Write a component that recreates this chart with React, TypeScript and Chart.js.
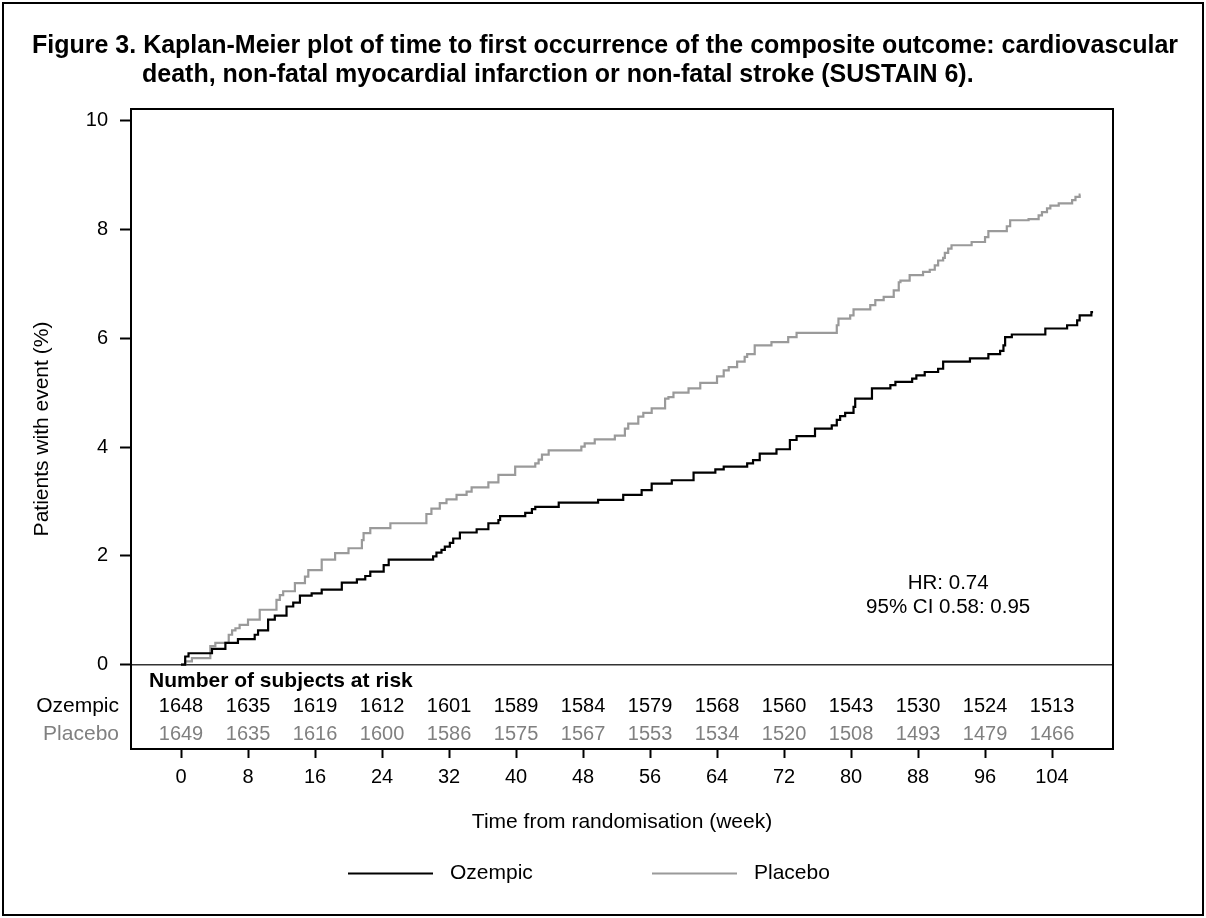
import React, { useEffect, useRef } from "react";
import { Chart, registerables } from "chart.js";

Chart.register(...registerables);

// ---- data ----
const ozWeeks = [0, 0.5, 0.9, 3.7, 5.3, 6.8, 8.8, 9.2, 10.4, 11.2, 12.6, 13.4, 14.2, 15.6, 16.8, 19.2, 21.0, 22.0, 22.6, 24.2, 24.8, 30.1, 30.5, 31.1, 31.5, 32.1, 32.5, 33.3, 35.3, 36.7, 37.9, 38.1, 41.1, 41.9, 42.3, 45.1, 49.8, 52.8, 55.0, 56.2, 58.6, 61.2, 63.8, 64.8, 67.6, 68.3, 69.1, 71.1, 72.7, 73.5, 75.7, 77.7, 78.3, 78.7, 79.3, 80.3, 80.5, 82.5, 84.7, 85.3, 87.3, 87.8, 88.8, 90.4, 91.0, 94.2, 96.4, 97.8, 98.2, 98.4, 99.2, 103.2, 105.8, 107.0, 107.3, 108.7, 108.9];
const ozValues = [0, 0.15, 0.21, 0.29, 0.40, 0.47, 0.55, 0.63, 0.83, 0.90, 1.07, 1.14, 1.27, 1.31, 1.38, 1.51, 1.57, 1.63, 1.71, 1.83, 1.93, 1.99, 2.06, 2.11, 2.17, 2.24, 2.32, 2.43, 2.49, 2.60, 2.66, 2.73, 2.79, 2.86, 2.90, 2.98, 3.03, 3.12, 3.21, 3.33, 3.39, 3.53, 3.59, 3.64, 3.70, 3.76, 3.88, 3.96, 4.13, 4.20, 4.34, 4.40, 4.50, 4.57, 4.63, 4.74, 4.89, 5.08, 5.14, 5.20, 5.26, 5.32, 5.38, 5.44, 5.57, 5.63, 5.71, 5.77, 5.87, 6.02, 6.07, 6.18, 6.24, 6.33, 6.42, 6.48, 6.48];

const plWeeks = [0, 0.5, 1.3, 3.5, 4.1, 5.7, 6.1, 6.5, 7.0, 8.0, 9.4, 11.4, 11.8, 12.2, 13.6, 14.8, 15.2, 16.8, 18.4, 20.0, 21.6, 21.8, 22.6, 25.0, 29.3, 29.9, 30.9, 31.7, 32.9, 34.1, 34.7, 36.7, 37.9, 39.9, 42.3, 42.7, 43.1, 43.9, 47.8, 48.2, 49.4, 51.8, 53.0, 53.4, 54.6, 55.2, 56.2, 57.8, 58.2, 58.8, 60.6, 62.0, 64.0, 64.8, 65.4, 66.4, 67.3, 67.6, 68.5, 70.5, 72.5, 73.5, 78.3, 78.5, 79.9, 80.3, 82.3, 82.9, 83.9, 85.1, 85.7, 85.9, 87.0, 88.6, 89.4, 90.0, 90.4, 91.0, 91.2, 91.6, 92.0, 94.4, 96.0, 96.4, 98.6, 99.0, 101.2, 102.4, 102.8, 103.4, 103.8, 104.8, 106.4, 106.8, 107.3, 107.4];
const plValues = [0, 0.06, 0.12, 0.34, 0.40, 0.55, 0.63, 0.67, 0.73, 0.83, 1.01, 1.19, 1.28, 1.35, 1.50, 1.62, 1.74, 1.93, 2.05, 2.14, 2.29, 2.42, 2.51, 2.60, 2.77, 2.87, 2.97, 3.04, 3.12, 3.18, 3.26, 3.35, 3.49, 3.64, 3.70, 3.77, 3.86, 3.94, 4.01, 4.07, 4.14, 4.21, 4.34, 4.43, 4.56, 4.63, 4.71, 4.89, 4.92, 5.00, 5.08, 5.18, 5.30, 5.41, 5.47, 5.57, 5.66, 5.71, 5.87, 5.93, 6.02, 6.10, 6.24, 6.36, 6.42, 6.53, 6.61, 6.70, 6.76, 6.88, 7.03, 7.06, 7.16, 7.22, 7.26, 7.34, 7.43, 7.48, 7.57, 7.65, 7.71, 7.77, 7.86, 7.97, 8.06, 8.17, 8.19, 8.26, 8.32, 8.39, 8.44, 8.48, 8.54, 8.60, 8.64, 8.64];

const riskWeeks = [0, 8, 16, 24, 32, 40, 48, 56, 64, 72, 80, 88, 96, 104];
const ozRisk = [1648, 1635, 1619, 1612, 1601, 1589, 1584, 1579, 1568, 1560, 1543, 1530, 1524, 1513];
const plRisk = [1649, 1635, 1616, 1600, 1586, 1575, 1567, 1553, 1534, 1520, 1508, 1493, 1479, 1466];
const yTicks = [0, 2, 4, 6, 8, 10];

const seriesNames = ["Ozempic", "Placebo"];
const titleLines = [
  "Figure 3. Kaplan-Meier plot of time to first occurrence of the composite outcome: cardiovascular",
  "death, non-fatal myocardial infarction or non-fatal stroke (SUSTAIN 6).",
];
const riskHeader = "Number of subjects at risk";
const hrLines = ["HR: 0.74", "95% CI 0.58: 0.95"];
const xTitle = "Time from randomisation (week)";
const yTitle = "Patients with event (%)";

const OZ_COLOR = "#000000";
const PL_COLOR = "#9a9a9a";
const PL_TEXT = "#808080";
const FONT = "'Liberation Sans', Arial, Helvetica, sans-serif";

const decorPlugin = {
  id: "decor",
  beforeDatasetsDraw(chart: any) {
    const { ctx, chartArea, scales } = chart;
    const y0 = scales.y.getPixelForValue(0);
    ctx.save();
    ctx.strokeStyle = "#333333";
    ctx.lineWidth = 1.5;
    ctx.beginPath();
    ctx.moveTo(chartArea.left, y0);
    ctx.lineTo(chartArea.right, y0);
    ctx.stroke();
    ctx.restore();
  },
  afterDraw(chart: any) {
    const { ctx, chartArea, scales } = chart;
    const xs = scales.x;
    const ys = scales.y;
    const y0 = ys.getPixelForValue(0);
    ctx.save();
    // outer frame
    ctx.strokeStyle = "#000";
    ctx.lineWidth = 2;
    ctx.strokeRect(3, 3, chart.width - 6, chart.height - 6);
    // plot box
    ctx.lineWidth = 2;
    ctx.strokeRect(chartArea.left, chartArea.top, chartArea.right - chartArea.left, chartArea.bottom - chartArea.top);

    // title
    ctx.fillStyle = "#000";
    ctx.textBaseline = "middle";
    ctx.textAlign = "left";
    ctx.font = `bold 25px ${FONT}`;
    ctx.fillText(titleLines[0], 32, 46);
    ctx.fillText(titleLines[1], 142, 75);

    // risk table
    ctx.font = `bold 21px ${FONT}`;
    ctx.fillText(riskHeader, chartArea.left + 18, y0 + 17);
    ctx.font = `21px ${FONT}`;
    ctx.textAlign = "right";
    ctx.fillStyle = OZ_COLOR;
    ctx.fillText(seriesNames[0], chartArea.left - 12, y0 + 42);
    ctx.fillStyle = PL_TEXT;
    ctx.fillText(seriesNames[1], chartArea.left - 12, y0 + 70);
    ctx.textAlign = "center";
    ctx.font = `20px ${FONT}`;
    riskWeeks.forEach((w, i) => {
      const px = xs.getPixelForValue(w);
      ctx.fillStyle = OZ_COLOR;
      ctx.fillText(String(ozRisk[i]), px, y0 + 42);
      ctx.fillStyle = PL_TEXT;
      ctx.fillText(String(plRisk[i]), px, y0 + 70);
    });

    // HR annotation
    ctx.font = `20.5px ${FONT}`;
    ctx.fillStyle = "#000";
    const hx = xs.getPixelForValue(91.6);
    ctx.fillText(hrLines[0], hx, ys.getPixelForValue(1.5));
    ctx.fillText(hrLines[1], hx, ys.getPixelForValue(1.06));

    // legend
    ctx.font = `21px ${FONT}`;
    const ly = 873.5;
    const items = [
      { name: seriesNames[0], color: OZ_COLOR, x: 348 },
      { name: seriesNames[1], color: PL_COLOR, x: 652 },
    ];
    ctx.textAlign = "left";
    items.forEach((it) => {
      ctx.strokeStyle = it.color;
      ctx.lineWidth = 2;
      ctx.beginPath();
      ctx.moveTo(it.x, ly);
      ctx.lineTo(it.x + 85, ly);
      ctx.stroke();
      ctx.fillStyle = "#000";
      ctx.fillText(it.name, it.x + 102, ly);
    });
    ctx.restore();
  },
};

export default function App() {
  const ref = useRef<HTMLCanvasElement | null>(null);
  useEffect(() => {
    if (!ref.current) return;
    const chart = new Chart(ref.current, {
      type: "line",
      data: {
        datasets: [
          {
            label: seriesNames[0],
            data: ozWeeks.map((w, i) => ({ x: w, y: ozValues[i] })),
            borderColor: OZ_COLOR,
            borderWidth: 2.2,
            stepped: "before",
            pointRadius: 0,
            fill: false,
          },
          {
            label: seriesNames[1],
            data: plWeeks.map((w, i) => ({ x: w, y: plValues[i] })),
            borderColor: PL_COLOR,
            borderWidth: 2.2,
            stepped: "before",
            pointRadius: 0,
            fill: false,
          },
        ],
      },
      options: {
        animation: false,
        responsive: false,
        devicePixelRatio: 1,
        layout: { padding: { left: 0, right: 93, top: 109, bottom: 80 } },
        plugins: {
          legend: { display: false },
          tooltip: { enabled: false },
          title: { display: false },
        },
        scales: {
          x: {
            type: "linear",
            min: -5.97,
            max: 111.28,
            afterBuildTicks: (s: any) => {
              s.ticks = riskWeeks.map((v) => ({ value: v }));
            },
            afterFit: (s: any) => {
              s.height = 89;
            },
            border: { display: false },
            grid: { drawOnChartArea: false, drawTicks: true, tickLength: 9, tickWidth: 2, tickColor: "#000" },
            ticks: { color: "#000", font: { family: FONT, size: 20 }, padding: 7, maxRotation: 0, autoSkip: false },
            title: {
              display: true,
              text: xTitle,
              color: "#000",
              font: { family: FONT, size: 21 },
              padding: { top: 0, bottom: 3.5 },
            },
          },
          y: {
            type: "linear",
            min: -1.55,
            max: 10.215,
            afterBuildTicks: (s: any) => {
              s.ticks = yTicks.map((v) => ({ value: v }));
            },
            afterFit: (s: any) => {
              s.width = 131;
            },
            border: { display: false },
            grid: { drawOnChartArea: false, drawTicks: true, tickLength: 11, tickWidth: 2, tickColor: "#000" },
            ticks: { color: "#000", font: { family: FONT, size: 20 }, padding: 12 },
            title: {
              display: true,
              text: yTitle,
              color: "#000",
              font: { family: FONT, size: 21 },
              padding: { top: 29.5, bottom: 0 },
            },
          },
        },
      },
      plugins: [decorPlugin],
    });
    return () => chart.destroy();
  }, []);
  return (
    <div style={{ position: "absolute", left: 0, top: 0, width: 1206, height: 918, background: "#fff" }}>
      <canvas ref={ref} width={1206} height={918} style={{ display: "block" }} />
    </div>
  );
}
